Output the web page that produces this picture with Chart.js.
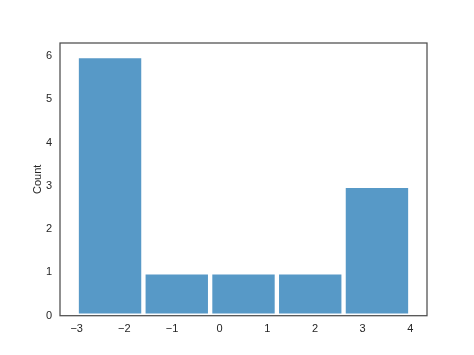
<!DOCTYPE html>
<html>
<head>
<meta charset="utf-8">
<script src="https://cdn.jsdelivr.net/npm/chart.js@4"></script>
<style>
	html, body { margin: 0; padding: 0; background: #fff; }
	#wrap { width: 474px; height: 355px; position: relative; }
</style>
</head>
<body>
<div id="wrap"><canvas id="histChart"></canvas></div>
<script>
// histogram bins and counts
const binEdges = [-3.0, -1.6, -0.2, 1.2, 2.6, 4.0];
const counts = [6, 1, 1, 1, 3];
const xTickValues = [-3, -2, -1, 0, 1, 2, 3, 4];
const yTickValues = [0, 1, 2, 3, 4, 5, 6];
const yLabel = 'Count';

const points = counts.map((c, i) => ({ x: (binEdges[i] + binEdges[i + 1]) / 2, y: c }));

const fontFamily = '"Liberation Sans", Arial, sans-serif';
const textColor = '#262626';
const xMin = -3.35, xMax = 4.35;

// draw the box round the plot area, like the matplotlib spines
const boxPlugin = {
	id: 'box',
	afterDraw(chart) {
		const a = chart.chartArea;
		const ctx = chart.ctx;
		ctx.save();
		ctx.strokeStyle = '#4d4d4d';
		ctx.lineWidth = 1.25;
		ctx.strokeRect(a.left, a.top, a.right - a.left, a.bottom - a.top);
		ctx.restore();
	}
};

new Chart(document.getElementById('histChart'), {
	type: 'bar',
	data: {
		datasets: [{
			data: points,
			xAxisID: 'xb',
			backgroundColor: 'rgba(31, 119, 180, 0.75)',
			borderColor: '#ffffff',
			borderWidth: 2.5,
			borderSkipped: false,
			barPercentage: 1,
			categoryPercentage: 1
		}]
	},
	options: {
		responsive: true,
		maintainAspectRatio: false,
		animation: false,
		layout: { padding: { top: 43, right: 47, left: 31, bottom: 0 } },
		plugins: {
			legend: { display: false },
			tooltip: { enabled: false }
		},
		scales: {
			// hidden axis whose ticks are the bin edges, so bars span a full bin
			xb: {
				type: 'linear',
				position: 'bottom',
				display: false,
				offset: false,
				min: xMin,
				max: xMax,
				afterBuildTicks: scale => { scale.ticks = binEdges.map(v => ({ value: v })); }
			},
			x: {
				type: 'linear',
				position: 'bottom',
				offset: false,
				min: xMin,
				max: xMax,
				grid: { display: false, drawTicks: false },
				border: { display: false },
				afterBuildTicks: scale => { scale.ticks = xTickValues.map(v => ({ value: v })); },
				afterFit: scale => { scale.height = 39.3; },
				ticks: {
					autoSkip: false,
					maxRotation: 0,
					padding: 7,
					color: textColor,
					font: { family: fontFamily, size: 11 },
					callback: v => String(v).replace('-', '\u2212')
				}
			},
			y: {
				min: 0,
				max: 6.3,
				grid: { display: false, drawTicks: false },
				border: { display: false },
				afterBuildTicks: scale => { scale.ticks = yTickValues.map(v => ({ value: v })); },
				afterFit: scale => { scale.width = 29; },
				title: {
					display: true,
					text: yLabel,
					color: textColor,
					font: { family: fontFamily, size: 11 },
					padding: { top: 0, bottom: 0 }
				},
				ticks: {
					padding: 8,
					color: textColor,
					font: { family: fontFamily, size: 11 }
				}
			}
		}
	},
	plugins: [boxPlugin]
});
</script>
</body>
</html>
